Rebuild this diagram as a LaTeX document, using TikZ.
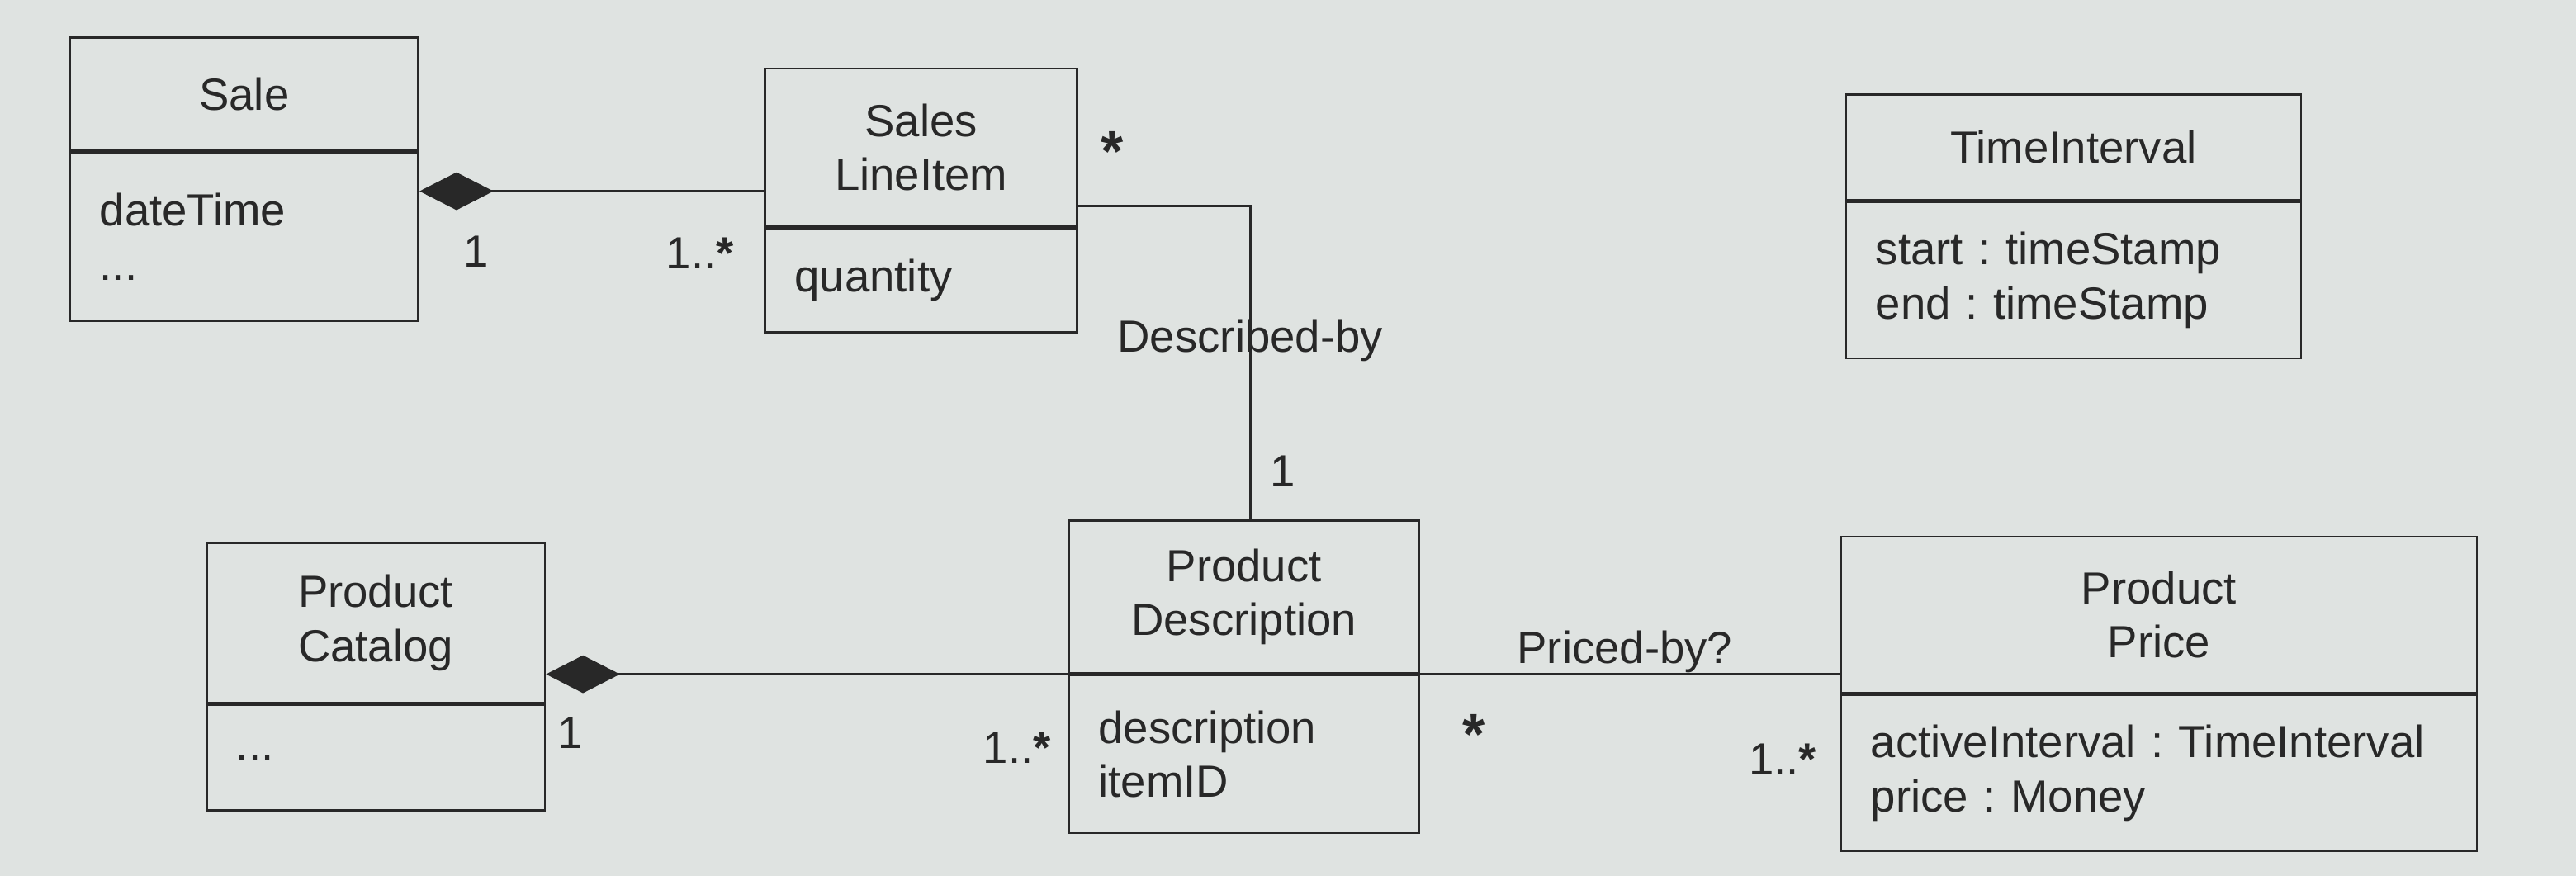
\documentclass[tikz,border=0pt]{standalone}
\usepackage{fontspec}
\setmainfont{Liberation Sans}
\usetikzlibrary{arrows.meta}
\definecolor{carta}{RGB}{223,227,225}
\definecolor{inchiostro}{RGB}{40,40,40}
\newcommand{\stella}{{\fontsize{20}{20}\selectfont\bfseries *}}
\frenchspacing

\begin{document}
\begin{tikzpicture}[x=0.02cm, y=-0.02cm,
    every node/.style={font=\fontsize{15.6}{18.7}\selectfont, text=inchiostro},
    classe/.style={draw=inchiostro, line width=0.8pt, inner sep=0pt, align=center, anchor=north west},
    attributi/.style={draw=inchiostro, line width=0.8pt, inner ysep=0pt, inner xsep=0.36cm, align=left, anchor=north},
    linea/.style={draw=inchiostro, line width=0.8pt},
    composizione/.style={linea, {Diamond[length=0.9cm, width=0.46cm]}-}]
            % Sfondo
            \fill[carta] (0,0) rectangle (1568,533.2);

            % Classi
            \node[classe, minimum width=4.24cm, minimum height=1.38cm] (sale) at (42,22) {Sale};
            \node[attributi, text width=3.52cm, minimum height=2.04cm] (saleattr) at (sale.south) {dateTime\\...};

            \node[classe, minimum width=3.8cm, minimum height=1.92cm] (sli) at (465,41) {Sales\\LineItem};
            \node[attributi, text width=3.08cm, minimum height=1.26cm] (sliattr) at (sli.south) {quantity};

            \node[classe, minimum width=5.54cm, minimum height=1.28cm] (ti) at (1123,57) {TimeInterval};
            \node[attributi, text width=4.82cm, minimum height=1.9cm] (tiattr) at (ti.south) {start : timeStamp\\end : timeStamp};

            \node[classe, minimum width=4.12cm, minimum height=1.94cm] (cat) at (125,330) {Product\\Catalog};
            \node[attributi, text width=3.4cm, minimum height=1.28cm] (catattr) at (cat.south) {...};

            \node[classe, minimum width=4.26cm, minimum height=1.86cm] (pd) at (650,316) {Product\\Description};
            \node[attributi, text width=3.54cm, minimum height=1.92cm] (pdattr) at (pd.south) {description\\itemID};

            \node[classe, minimum width=7.74cm, minimum height=1.9cm] (pp) at (1120,326) {Product\\Price};
            \node[attributi, text width=7.02cm, minimum height=1.9cm] (ppattr) at (pp.south) {activeInterval : TimeInterval\\price : Money};

            % Associazioni
            \coordinate (c1) at ([yshift=-0.48cm]saleattr.north east);
            \draw[composizione] (c1) -- (c1 -| sli.west);
            \draw[linea] ([yshift=0.26cm]sliattr.north east) -| ([xshift=0.08cm]pd.north);
            \coordinate (c2) at ([yshift=0.36cm]cat.south east);
            \draw[composizione] (c2) -- (c2 -| pd.west);
            \draw[linea] (pdattr.north east) -- (pdattr.north east -| pp.west);

            % Molteplicita e nomi
            \node (m1) at (290,153) {1};
            \node (m2) at (426,154) {1..\textbf{*}};
            \node (m3) at (677,92) {\stella};
            \node (descr) at (761,207) {Described-by};
            \node (m4) at (781,287) {1};
            \node (m5) at (347,446) {1};
            \node (m6) at (619,455) {1..\textbf{*}};
            \node (m7) at (897,447) {\stella};
            \node[anchor=base] (prezzo) at (989,404) {Priced-by?};
            \node (m8) at (1085,462) {1..\textbf{*}};
        \end{tikzpicture}
\end{document}
